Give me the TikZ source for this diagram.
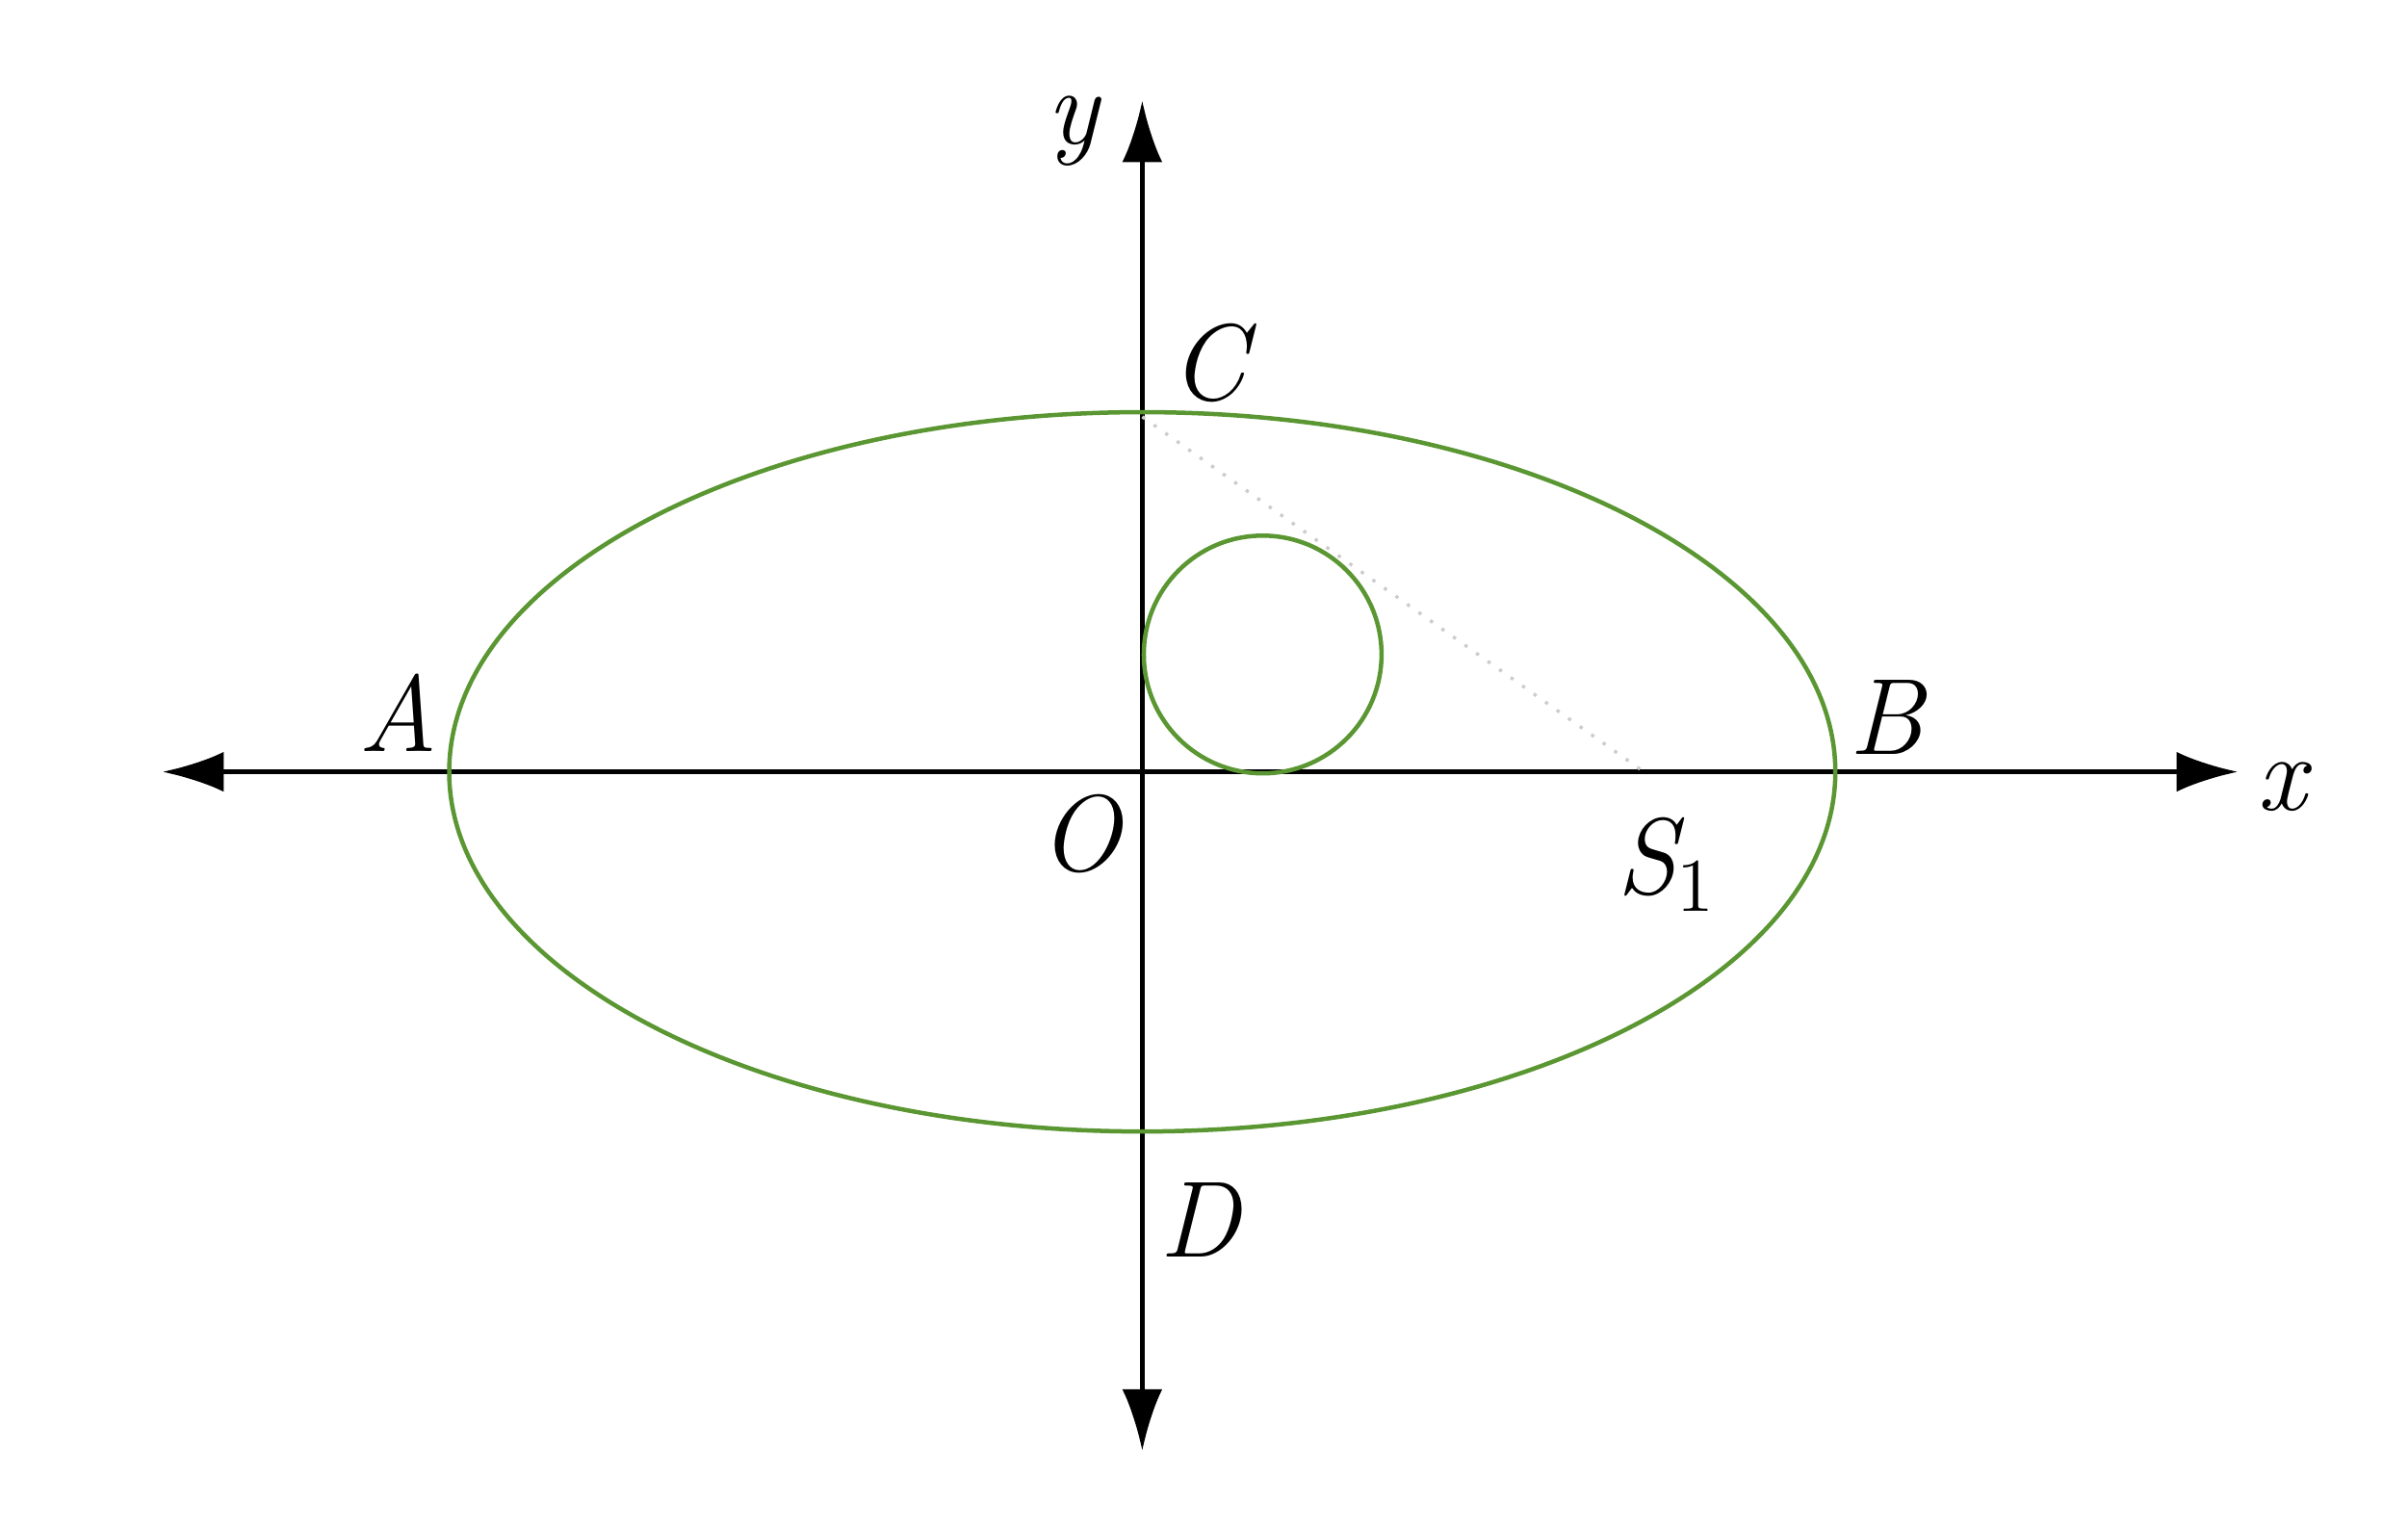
\documentclass[tikz,border=0pt]{standalone}
\usetikzlibrary{arrows.meta, positioning}
\definecolor{curvegreen}{RGB}{90,150,50}
\begin{document}
\begin{tikzpicture}[
    axis/.style={{Latex[length=4mm, width=2.6mm]}-{Latex[length=4mm, width=2.6mm]}, line width=1pt},
    curve/.style={draw=curvegreen, line width=0.8pt},
    lbl/.style={font=\fontsize{20}{24}\selectfont\itshape, inner sep=0pt}
]
\useasboundingbox (-7.4,-4.9) rectangle (8.2,5.0);

% Points
\coordinate (O) at (0,0);
\coordinate (xl) at (-6.35,0);
\coordinate (xr) at (7.1,0);
\coordinate (yt) at (0,4.35);
\coordinate (yb) at (0,-4.4);
\coordinate (Cp) at (0,2.3);
\coordinate (Sp) at (3.25,0);

% Axes
\draw[axis] (xl) -- (xr);
\draw[axis] (yb) -- (yt);

% Ellipse and circle
\draw[curve] (O) ellipse [x radius=4.49, y radius=2.33];
\draw[curve] (0.78,0.76) circle [radius=0.77];

% Faint segment
\draw[gray!40, dotted, line width=0.6pt] (Cp) -- (Sp);

% Labels
\node[lbl] (ylbl) at (-0.45,4.15) {y};
\node[lbl] (xlbl) at (7.38,-0.1) {x};
\node[lbl] (Clbl) at (0.43,2.65) {C};
\node[lbl] (Dlbl) at (0.37,-2.9) {D};
\node[lbl] (Albl) at (-4.82,0.38) {A};
\node[lbl] (Blbl) at (4.82,0.35) {B};
\node[lbl] (Olbl) at (-0.4,-0.4) {O};
\node[lbl] (Slbl) at (3.4,-0.6) {S\textsubscript{\upshape 1}};
\end{tikzpicture}
\end{document}
